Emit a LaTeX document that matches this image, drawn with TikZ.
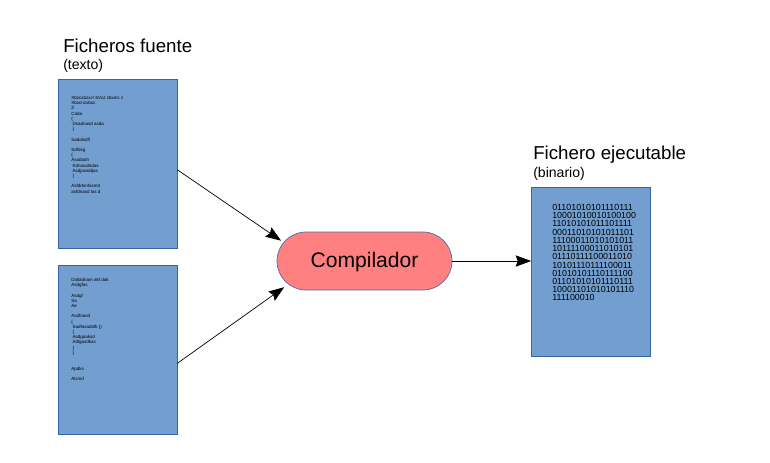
\documentclass[tikz,border=0pt]{standalone}
\usepackage{fontspec}
\setmainfont{Liberation Sans}
\usepackage{xcolor}
\usetikzlibrary{shapes.misc,arrows.meta}

\definecolor{docblue}{HTML}{729FCF}
\definecolor{docedge}{HTML}{3465A4}
\definecolor{compred}{HTML}{FF8080}
\definecolor{compedge}{HTML}{4A6EA9}

\tikzset{
    docbox/.style={draw=docedge, fill=docblue, line width=0.5pt, minimum width=119*0.025cm, minimum height=169*0.025cm, inner sep=0pt},
    compbox/.style={rounded rectangle, draw=compedge, fill=compred, line width=0.5pt, minimum width=175*0.025cm, minimum height=58*0.025cm, inner sep=0pt, text height=12.7pt, font=\fontsize{15}{18}\selectfont},
    bigtitle/.style={anchor=base west, inner sep=0pt, font=\fontsize{13.3}{16}\selectfont},
    subtitle/.style={anchor=base west, inner sep=0pt, font=\fontsize{10}{12}\selectfont},
    srctext/.style={anchor=north west, inner sep=0pt, align=left, font=\fontsize{3.2}{3.7}\selectfont},
    bintext/.style={anchor=north west, inner sep=0pt, align=left, font=\fontsize{6.3}{5.85}\selectfont},
    flow/.style={-{Stealth[length=11pt,width=8pt,inset=1.5pt]}, line width=0.5pt}
}

\begin{document}
\begin{tikzpicture}[x=0.025cm, y=-0.025cm]
    \useasboundingbox (0,0) rectangle (770,462);

    % Source files
    \node[bigtitle] (fuente) at (63,52) {Ficheros fuente};
    \node[subtitle] (texto) at (63,69) {(texto)};
    \node[docbox] (doca) at (117.5,163.5) {};
    \node[docbox] (docb) at (117.5,349.5) {};
    \node[srctext] (texta) at (71,96) {Xbzcxbzxc! bVxz zbxmc z\\Xbxcnzxbxz\\Z\\Cada\\\{\\\ Dsadnasd asda\\\ \}\\ \\Sadalsdfl\\ \\Sdfdsg\\\{\\Asadadn\\\ Kdnasalndas\\\ Asdjasaldjas\\\ \}\\ \\Asfddnnfasmd\\asfdnasd las d};
    \node[srctext] (textb) at (71,278) {Dalladnam akf dak\\Asdgfas\\ \\Asdgf\\Sa\\Ae\\ \\Asdfoasd\\\{\\\ Sadfasadofk ()\\\ \{\\\ Asdgoaksd\\\ Adlgasdkas\\\ \}\\\ \}\\ \\ \\Apdks\\ \\Alsmd};

    % Compiler
    \node[compbox] (compilador) at (364.5,261) {Compilador};

    % Executable
    \node[bigtitle] (fichero) at (533,159) {Fichero ejecutable};
    \node[subtitle] (binario) at (533,177) {(binario)};
    \node[docbox] (docc) at (591,271.5) {};
    \node[bintext] (textc) at (552,204) {01101010101110111\\10001010010100100\\11010101011101111\\00011010101011101\\11100011010101011\\10111100011010101\\01110111100011010\\10101110111100011\\01010101110111100\\01101010101110111\\10001101010101110\\111100010};

    % Arrows
    \draw[flow, shorten >=2pt] (doca.-6) -- (compilador.167);
    \draw[flow, shorten >=3.5pt] (docb.-13) -- (compilador.197);
    \draw[flow] (compilador.east) -- (docc.west |- compilador.east);
\end{tikzpicture}
\end{document}
